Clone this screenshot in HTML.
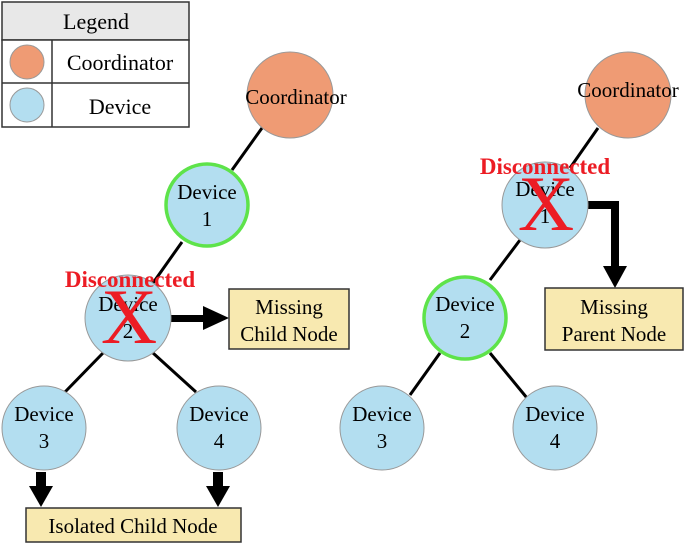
<!DOCTYPE html>
<html><head><meta charset="utf-8"><style>
html,body{margin:0;padding:0;background:#fff;}
svg{display:block;}
text{font-family:"Liberation Serif",serif;fill:#000;}
</style></head><body>
<svg width="685" height="545" viewBox="0 0 685 545" xmlns="http://www.w3.org/2000/svg">
<rect width="685" height="545" fill="#fff"/>
<!-- Legend -->
<rect x="2" y="2" width="187" height="38" fill="#e8e8e8" stroke="#333" stroke-width="1.5"/>
<rect x="2" y="40" width="187" height="87" fill="#fff" stroke="#333" stroke-width="1.5"/>
<line x1="2" y1="83" x2="189" y2="83" stroke="#333" stroke-width="1.5"/>
<line x1="52" y1="40" x2="52" y2="127" stroke="#333" stroke-width="1.5"/>
<text x="96" y="29" font-size="22" text-anchor="middle">Legend</text>
<circle cx="27" cy="62" r="17" fill="#ef9b74" stroke="#999"/>
<circle cx="27" cy="105" r="17" fill="#b3def0" stroke="#999"/>
<text x="120" y="70" font-size="22" text-anchor="middle">Coordinator</text>
<text x="120" y="114" font-size="22" text-anchor="middle">Device</text>

<!-- connector lines -->
<g stroke="#000" stroke-width="3">
<line x1="262" y1="128" x2="232" y2="170"/>
<line x1="182" y1="242" x2="153" y2="283"/>
<line x1="103" y1="353" x2="65" y2="392"/>
<line x1="153" y1="353" x2="196" y2="392"/>
<line x1="598" y1="128" x2="570" y2="168"/>
<line x1="520" y1="240" x2="490" y2="280"/>
<line x1="440" y1="353" x2="410" y2="395"/>
<line x1="490" y1="353" x2="527" y2="398"/>
</g>

<!-- arrows -->
<g fill="#000">
<rect x="171" y="315" width="36" height="7"/>
<polygon points="203,306 229,318 203,330"/>
<rect x="36" y="472" width="10" height="16"/>
<polygon points="29,486 53,486 41,507"/>
<rect x="213" y="472" width="10" height="16"/>
<polygon points="206,486 230,486 218,507"/>
<polygon points="587,201 619,201 619,268 611,268 611,209 587,209"/>
<polygon points="603,266 627,266 615,288"/>
</g>

<!-- boxes -->
<g fill="#f8e9b0" stroke="#333" stroke-width="1.5">
<rect x="229" y="289" width="120" height="60"/>
<rect x="26" y="508" width="215" height="34"/>
<rect x="545" y="288" width="138" height="62"/>
</g>
<g font-size="21" text-anchor="middle">
<text x="289" y="314">Missing</text>
<text x="289" y="341">Child Node</text>
<text x="133" y="533">Isolated Child Node</text>
<text x="614" y="314">Missing</text>
<text x="614" y="341">Parent Node</text>
</g>

<!-- nodes -->
<circle cx="290" cy="95" r="43" fill="#ef9b74" stroke="#999"/>
<circle cx="628" cy="95" r="43" fill="#ef9b74" stroke="#999"/>
<circle cx="207" cy="205" r="41" fill="#b3def0" stroke="#5ee34a" stroke-width="3.5"/>
<circle cx="128" cy="318" r="43" fill="#b3def0" stroke="#999"/>
<circle cx="44" cy="428" r="42" fill="#b3def0" stroke="#999"/>
<circle cx="219" cy="428" r="42" fill="#b3def0" stroke="#999"/>
<circle cx="545" cy="205" r="43" fill="#b3def0" stroke="#999"/>
<circle cx="465" cy="318" r="41" fill="#b3def0" stroke="#5ee34a" stroke-width="3.5"/>
<circle cx="382" cy="428" r="42" fill="#b3def0" stroke="#999"/>
<circle cx="555" cy="428" r="42" fill="#b3def0" stroke="#999"/>

<g font-size="21" text-anchor="middle">
<text x="296" y="104">Coordinator</text>
<text x="628" y="97">Coordinator</text>
<text x="207" y="199">Device</text><text x="207" y="226">1</text>
<text x="128" y="311">Device</text><text x="128" y="338">2</text>
<text x="44" y="421">Device</text><text x="44" y="448">3</text>
<text x="219" y="421">Device</text><text x="219" y="448">4</text>
<text x="545" y="196">Device</text><text x="545" y="223">1</text>
<text x="465" y="311">Device</text><text x="465" y="338">2</text>
<text x="382" y="421">Device</text><text x="382" y="448">3</text>
<text x="555" y="421">Device</text><text x="555" y="448">4</text>
</g>

<!-- disconnected marks -->
<g text-anchor="middle">
<text x="130" y="287" font-size="23" font-weight="bold" style="fill:#ec1c24">Disconnected</text>
<text x="545" y="174" font-size="23" font-weight="bold" style="fill:#ec1c24">Disconnected</text>
<text x="129" y="343" font-size="78" style="fill:#ec1c24">X</text>
<text x="546" y="230" font-size="78" style="fill:#ec1c24">X</text>
</g>
</svg>
</body></html>
